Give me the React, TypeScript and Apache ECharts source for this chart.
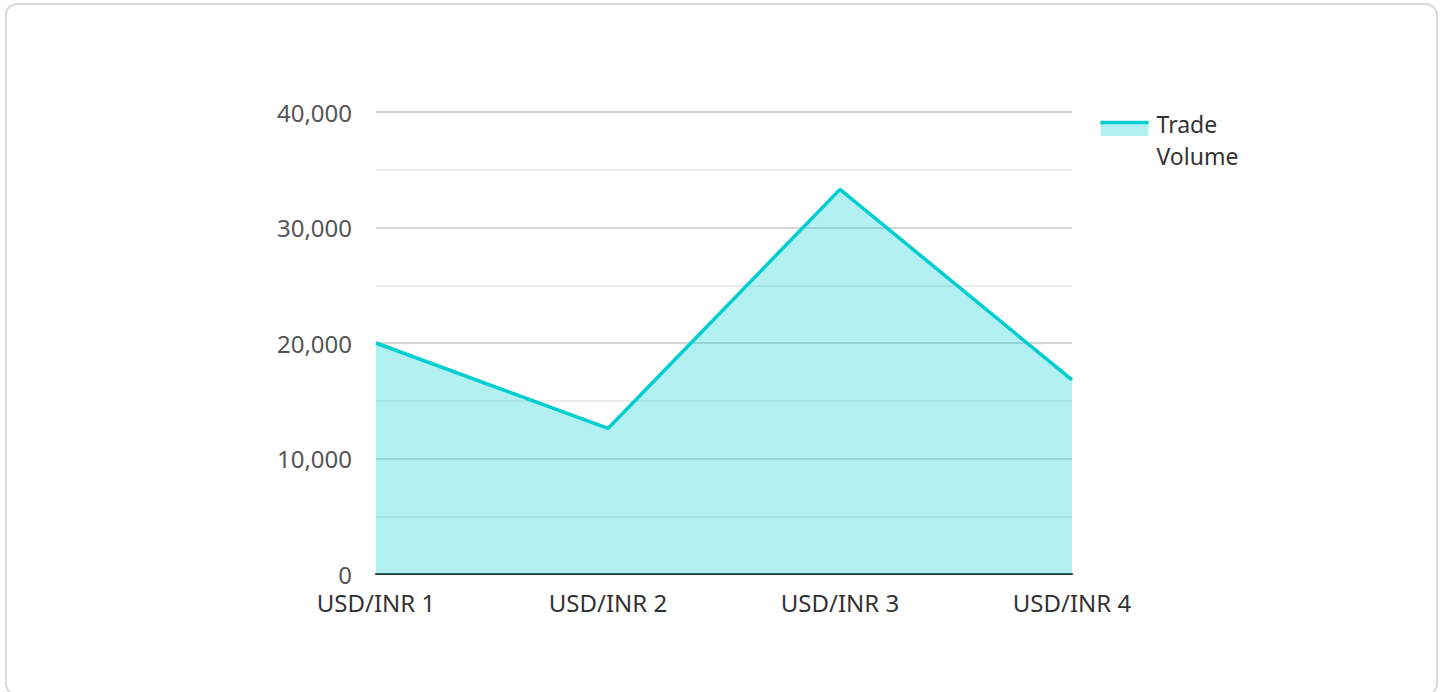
import React, { useEffect, useRef } from "react";
import * as echarts from "echarts";

const categories = ["USD/INR 1", "USD/INR 2", "USD/INR 3", "USD/INR 4"];
const tradeVolume = [20000, 12600, 33300, 16800];
const seriesName = "Trade Volume";
const yMax = 40000;
const yInterval = 10000;

const LINE = "#00CED1";
const AREA = "rgba(0,206,209,0.3)";
const FONT = "'Noto Sans', 'Open Sans', sans-serif";

export default function App() {
  const ref = useRef<HTMLDivElement>(null);
  useEffect(() => {
    document.body.style.margin = "0";
    const chart = echarts.init(ref.current!, null, { renderer: "svg" });
    chart.setOption({
      animation: false,
      textStyle: { fontFamily: FONT },
      grid: { left: 376, top: 112, width: 696, height: 462, containLabel: false },
      xAxis: {
        type: "category",
        data: categories,
        boundaryGap: false,
        axisLine: { show: true, lineStyle: { color: "#333", width: 2 } },
        axisTick: { show: false },
        axisLabel: { color: "#333", fontSize: 24, margin: 16, fontFamily: FONT },
        splitLine: { show: false },
      },
      yAxis: {
        type: "value",
        min: 0,
        max: yMax,
        interval: yInterval,
        axisLine: { show: false },
        axisTick: { show: false },
        axisLabel: {
          color: "#555",
          fontSize: 24,
          margin: 24,
          fontFamily: FONT,
          formatter: (v: number) => v.toLocaleString("en-US"),
        },
        splitLine: { show: true, lineStyle: { color: "#c8c8c8", width: 1.5 } },
        minorTick: { show: false, splitNumber: 2 },
        minorSplitLine: { show: true, lineStyle: { color: "#e6e6e6", width: 1.5 } },
      },
      series: [
        {
          name: seriesName,
          type: "line",
          data: tradeVolume,
          symbol: "none",
          lineStyle: { color: LINE, width: 3.5 },
          areaStyle: { color: AREA, opacity: 1 },
          itemStyle: { color: LINE },
        },
      ],
      graphic: [
        {
          type: "group",
          left: 1098,
          top: 108,
          children: [
            { type: "rect", shape: { x: 0, y: 13, width: 48, height: 15 }, style: { fill: AREA } },
            { type: "line", shape: { x1: 0, y1: 14.5, x2: 48, y2: 14.5 }, style: { stroke: LINE, lineWidth: 3.5 } },
            {
              type: "text",
              x: 56,
              y: 0,
              style: {
                text: "Trade\nVolume",
                fill: "#333",
                font: `23px ${FONT}`,
                lineHeight: 32,
                textVerticalAlign: "top",
              },
            },
          ],
        },
      ],
    });
    return () => chart.dispose();
  }, []);
  return (
    <div style={{ position: "relative", width: 1445, height: 692, overflow: "hidden", background: "#fff" }}>
      <div
        style={{
          position: "absolute",
          left: 5,
          top: 3,
          width: 1433,
          height: 693,
          border: "2px solid #d9d9d9",
          borderRadius: 12,
          boxSizing: "border-box",
        }}
      />
      <div ref={ref} style={{ position: "absolute", left: 0, top: 0, width: 1445, height: 692 }} />
    </div>
  );
}
